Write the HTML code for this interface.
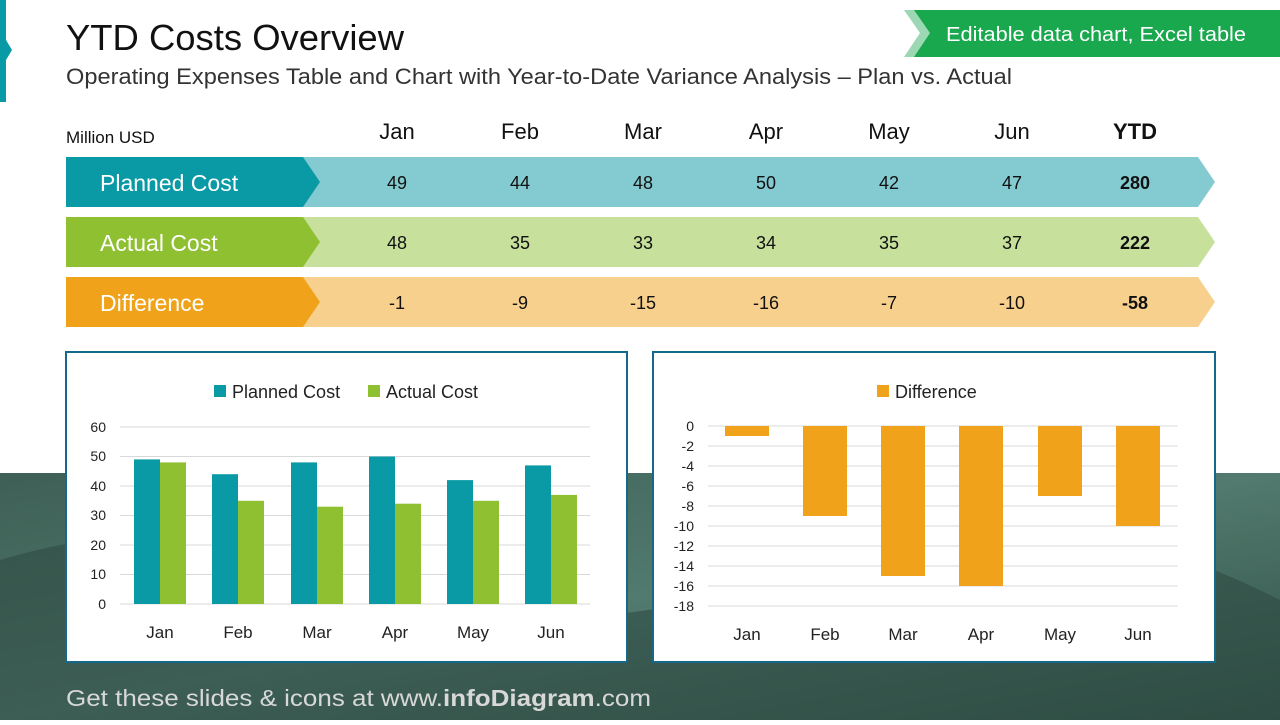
<!DOCTYPE html>
<html><head><meta charset="utf-8"><style>
body{margin:0;width:1280px;height:720px;overflow:hidden;font-family:"Liberation Sans",sans-serif;}
</style></head><body>
<svg width="1280" height="720" viewBox="0 0 1280 720" xmlns="http://www.w3.org/2000/svg" font-family="Liberation Sans, sans-serif">
<defs>
<linearGradient id="bg" x1="0" y1="0" x2="1" y2="1">
<stop offset="0" stop-color="#3e5f55"/><stop offset="0.5" stop-color="#527a6e"/><stop offset="1" stop-color="#2f4f45"/>
</linearGradient>
</defs>
<rect width="1280" height="720" fill="#fff"/>
<rect x="0" y="473" width="1280" height="247" fill="url(#bg)"/>
<path d="M0 560 Q200 500 400 580 T800 560 T1280 600 V720 H0Z" fill="#2e4b42" opacity="0.6"/>
<rect x="0" y="0" width="6" height="102" fill="#0a9aa5"/>
<polygon points="6,40 12,50 6,60" fill="#0a9aa5"/>
<text x="66" y="50" font-size="36" fill="#111" textLength="338" lengthAdjust="spacingAndGlyphs">YTD Costs Overview</text>
<text x="66" y="84" font-size="22" fill="#333" textLength="946" lengthAdjust="spacingAndGlyphs">Operating Expenses Table and Chart with Year-to-Date Variance Analysis – Plan vs. Actual</text>
<polygon points="904,10 1280,10 1280,57 904,57 920,33" fill="#3ab26a" opacity="0.5"/>
<polygon points="914,10 1280,10 1280,57 914,57 930,33" fill="#1aa84f"/>
<text x="946" y="41" font-size="20" fill="#fff" textLength="300" lengthAdjust="spacingAndGlyphs">Editable data chart, Excel table</text>
<text x="66" y="143" font-size="17" fill="#111">Million USD</text>
<g font-size="22" fill="#111" text-anchor="middle">
<text x="397" y="139">Jan</text><text x="520" y="139">Feb</text><text x="643" y="139">Mar</text><text x="766" y="139">Apr</text><text x="889" y="139">May</text><text x="1012" y="139">Jun</text><text x="1135" y="139" font-weight="bold">YTD</text>
</g>
<polygon points="300,157 1198,157 1215,182 1198,207 300,207" fill="#84cbd1"/>
<polygon points="66,157 303,157 320,182 303,207 66,207" fill="#0a9aa5"/>
<polygon points="300,217 1198,217 1215,242 1198,267 300,267" fill="#c7e19c"/>
<polygon points="66,217 303,217 320,242 303,267 66,267" fill="#8fc031"/>
<polygon points="300,277 1198,277 1215,302 1198,327 300,327" fill="#f8d08d"/>
<polygon points="66,277 303,277 320,302 303,327 66,327" fill="#f0a31a"/>
<g font-size="23" fill="#fff"><text x="100" y="191">Planned Cost</text><text x="100" y="251">Actual Cost</text><text x="100" y="311">Difference</text></g>
<g font-size="18" fill="#111" text-anchor="middle">
<text x="397" y="189">49</text><text x="520" y="189">44</text><text x="643" y="189">48</text><text x="766" y="189">50</text><text x="889" y="189">42</text><text x="1012" y="189">47</text><text x="1135" y="189" font-weight="bold">280</text>
<text x="397" y="249">48</text><text x="520" y="249">35</text><text x="643" y="249">33</text><text x="766" y="249">34</text><text x="889" y="249">35</text><text x="1012" y="249">37</text><text x="1135" y="249" font-weight="bold">222</text>
<text x="397" y="309">-1</text><text x="520" y="309">-9</text><text x="643" y="309">-15</text><text x="766" y="309">-16</text><text x="889" y="309">-7</text><text x="1012" y="309">-10</text><text x="1135" y="309" font-weight="bold">-58</text>
</g>
<rect x="66" y="352" width="561" height="310" fill="#fff" stroke="#16688a" stroke-width="2"/>
<rect x="214" y="385" width="12" height="12" fill="#0a9aa5"/><text x="232" y="398" font-size="18" fill="#222">Planned Cost</text>
<rect x="368" y="385" width="12" height="12" fill="#8fc031"/><text x="386" y="398" font-size="18" fill="#222">Actual Cost</text>
<g stroke="#d9d9d9" stroke-width="1">
<line x1="120" x2="590" y1="427" y2="427"/><line x1="120" x2="590" y1="456.5" y2="456.5"/><line x1="120" x2="590" y1="486" y2="486"/><line x1="120" x2="590" y1="515.5" y2="515.5"/><line x1="120" x2="590" y1="545" y2="545"/><line x1="120" x2="590" y1="574.5" y2="574.5"/><line x1="120" x2="590" y1="604" y2="604"/>
</g>
<g font-size="14" fill="#222" text-anchor="end">
<text x="106" y="432">60</text><text x="106" y="461">50</text><text x="106" y="491">40</text><text x="106" y="520">30</text><text x="106" y="550">20</text><text x="106" y="579">10</text><text x="106" y="609">0</text>
</g>
<g fill="#0a9aa5">
<rect x="134" y="459.4" width="26" height="144.6"/><rect x="212" y="474.2" width="26" height="129.8"/><rect x="291" y="462.4" width="26" height="141.6"/><rect x="369" y="456.5" width="26" height="147.5"/><rect x="447" y="480.1" width="26" height="123.9"/><rect x="525" y="465.4" width="26" height="138.6"/>
</g>
<g fill="#8fc031">
<rect x="160" y="462.4" width="26" height="141.6"/><rect x="238" y="500.8" width="26" height="103.2"/><rect x="317" y="506.7" width="26" height="97.3"/><rect x="395" y="503.7" width="26" height="100.3"/><rect x="473" y="500.8" width="26" height="103.2"/><rect x="551" y="494.9" width="26" height="109.1"/>
</g>
<g font-size="17" fill="#222" text-anchor="middle">
<text x="160" y="638">Jan</text><text x="238" y="638">Feb</text><text x="317" y="638">Mar</text><text x="395" y="638">Apr</text><text x="473" y="638">May</text><text x="551" y="638">Jun</text>
</g>
<rect x="653" y="352" width="562" height="310" fill="#fff" stroke="#16688a" stroke-width="2"/>
<rect x="877" y="385" width="12" height="12" fill="#f0a31a"/><text x="895" y="398" font-size="18" fill="#222">Difference</text>
<g stroke="#d9d9d9" stroke-width="1">
<line x1="708" x2="1178" y1="426" y2="426"/><line x1="708" x2="1178" y1="446" y2="446"/><line x1="708" x2="1178" y1="466" y2="466"/><line x1="708" x2="1178" y1="486" y2="486"/><line x1="708" x2="1178" y1="506" y2="506"/><line x1="708" x2="1178" y1="526" y2="526"/><line x1="708" x2="1178" y1="546" y2="546"/><line x1="708" x2="1178" y1="566" y2="566"/><line x1="708" x2="1178" y1="586" y2="586"/><line x1="708" x2="1178" y1="606" y2="606"/>
</g>
<g font-size="14" fill="#222" text-anchor="end">
<text x="694" y="431">0</text><text x="694" y="451">-2</text><text x="694" y="471">-4</text><text x="694" y="491">-6</text><text x="694" y="511">-8</text><text x="694" y="531">-10</text><text x="694" y="551">-12</text><text x="694" y="571">-14</text><text x="694" y="591">-16</text><text x="694" y="611">-18</text>
</g>
<g fill="#f0a31a">
<rect x="725" y="426" width="44" height="10"/><rect x="803" y="426" width="44" height="90"/><rect x="881" y="426" width="44" height="150"/><rect x="959" y="426" width="44" height="160"/><rect x="1038" y="426" width="44" height="70"/><rect x="1116" y="426" width="44" height="100"/>
</g>
<g font-size="17" fill="#222" text-anchor="middle">
<text x="747" y="640">Jan</text><text x="825" y="640">Feb</text><text x="903" y="640">Mar</text><text x="981" y="640">Apr</text><text x="1060" y="640">May</text><text x="1138" y="640">Jun</text>
</g>
<text x="66" y="706" font-size="23" fill="#d8d8d8" textLength="585" lengthAdjust="spacingAndGlyphs">Get these slides &amp; icons at www.<tspan font-weight="bold">infoDiagram</tspan>.com</text>
</svg>
</body></html>
